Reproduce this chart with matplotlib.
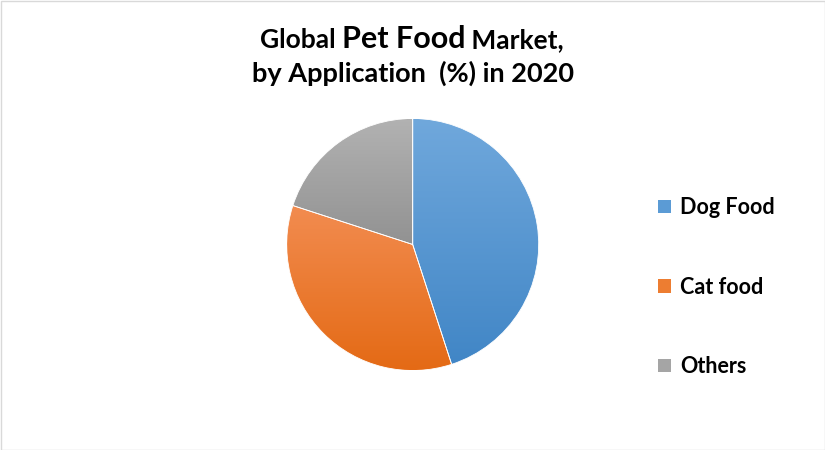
import numpy as np
import matplotlib
matplotlib.use("Agg")
import matplotlib.pyplot as plt
from matplotlib.patches import Patch, Rectangle
from matplotlib.colors import LinearSegmentedColormap

categories = ["Dog Food", "Cat food", "Others"]
shares = [45, 35, 20]
top_colors = ["#70a8dc", "#f28c50", "#b2b2b2"]
bottom_colors = ["#4186c6", "#e46a15", "#929292"]
legend_colors = ["#5b9bd5", "#ed7d31", "#a5a5a5"]

plt.rcParams["font.family"] = ["Lato", "DejaVu Sans"]

W, H = 825, 450
fig = plt.figure(figsize=(W / 100, H / 100), dpi=100)

cx, cy, r = 412.7, 244.5, 126
ax = fig.add_axes([(cx - r) / W, (H - cy - r) / H, 2 * r / W, 2 * r / H])
wedges, _ = ax.pie(shares, startangle=90, counterclock=False, radius=1.0)
ax.set_aspect("equal")
ax.axis("off")

# vertical gradient fill per slice, Excel style
for w, c0, c1 in zip(wedges, top_colors, bottom_colors):
    w.set_facecolor("none")
    w.set_edgecolor("white")
    w.set_linewidth(0.6)
    bb = w.get_path().get_extents(w.get_patch_transform())
    cmap = LinearSegmentedColormap.from_list("g", [c1, c0])
    grad = np.linspace(0, 1, 256).reshape(-1, 1)
    im = ax.imshow(grad, cmap=cmap, origin="lower", aspect="auto",
                   extent=[bb.x0, bb.x1, bb.y0, bb.y1], zorder=0)
    im.set_clip_path(w)
ax.set_xlim(-1, 1)
ax.set_ylim(-1, 1)

# title with a larger "Pet Food"
fig.canvas.draw()
rend = fig.canvas.get_renderer()
parts = [("Global ", 19), ("Pet Food", 22), (" Market,", 19)]
texts = []
for s, fs in parts:
    t = fig.text(0, 1 - 48 / H, s, fontsize=fs, fontweight="bold", va="baseline")
    texts.append(t)
widths = [t.get_window_extent(rend).width for t in texts]
x = 412 - sum(widths) / 2
for t, wd in zip(texts, widths):
    t.set_x(x / W)
    x += wd
fig.text(413 / W, 1 - 82 / H, "by Application  (%) in 2020", fontsize=19.5,
         fontweight="bold", ha="center", va="baseline")

handles = [Patch(facecolor=c, edgecolor="none") for c in legend_colors]
fig.legend(handles, categories, loc="center left", bbox_to_anchor=(639 / W, 1 - 287 / H),
           frameon=False, prop={"size": 15.5, "weight": "bold"},
           handlelength=0.6, handleheight=0.6, handletextpad=0.4, labelspacing=2.72)

fig.patches.append(Rectangle((0.5 / W, 0.5 / H), 1 - 1 / W, 1 - 1 / H, transform=fig.transFigure,
                             fill=False, edgecolor="#d9d9d9", linewidth=1))

fig.savefig("out.png", dpi=100, facecolor="white")
